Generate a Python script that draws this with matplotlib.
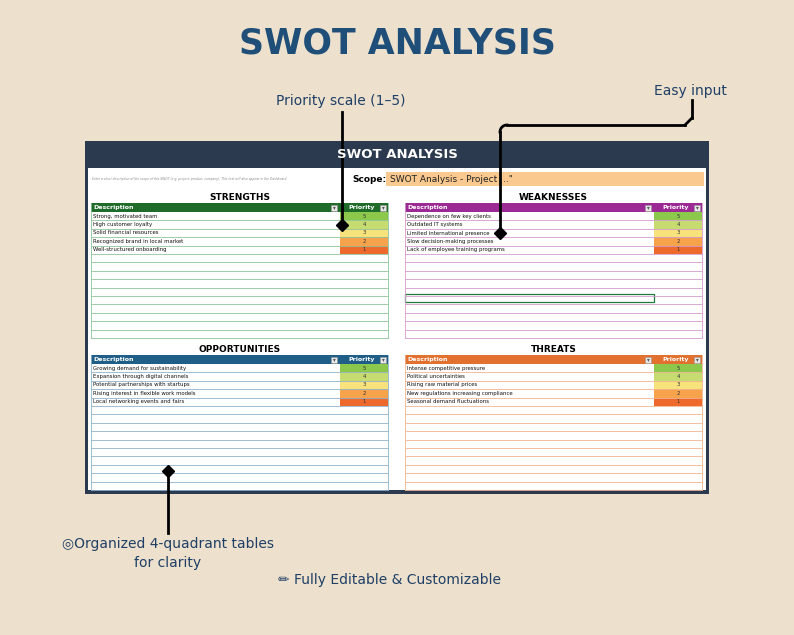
import matplotlib
matplotlib.use("Agg")
import matplotlib.pyplot as plt
from matplotlib.patches import Rectangle, FancyBboxPatch

title = "SWOT ANALYSIS"
quad_names = ["STRENGTHS", "WEAKNESSES", "OPPORTUNITIES", "THREATS"]
strengths = ["Strong, motivated team", "High customer loyalty", "Solid financial resources",
             "Recognized brand in local market", "Well-structured onboarding"]
weaknesses = ["Dependence on few key clients", "Outdated IT systems", "Limited international presence",
              "Slow decision-making processes", "Lack of employee training programs"]
opportunities = ["Growing demand for sustainability", "Expansion through digital channels",
                 "Potential partnerships with startups", "Rising interest in flexible work models",
                 "Local networking events and fairs"]
threats = ["Intense competitive pressure", "Political uncertainties", "Rising raw material prices",
           "New regulations increasing compliance", "Seasonal demand fluctuations"]
priorities = [5, 4, 3, 2, 1]
prio_colors = {5: "#8cc84b", 4: "#c6dc70", 3: "#f8e27c", 2: "#f6a34c", 1: "#ed6a2c"}

fig = plt.figure(figsize=(7.94, 6.35), dpi=100)
fig.patch.set_facecolor("#ede1cd")
ax = fig.add_axes([0, 0, 1, 1])
ax.set_xlim(0, 794); ax.set_ylim(635, 0); ax.axis("off")

ax.text(397, 43, title, ha="center", va="center", fontsize=25, fontweight="bold", color="#1f4e79")

# dashboard frame
ax.add_patch(Rectangle((85, 141), 624, 353, fc="#2b3a4f", ec="none"))
ax.add_patch(Rectangle((88, 168), 618, 322, fc="white", ec="none"))
ax.text(397, 155, "SWOT ANALYSIS", ha="center", va="center", fontsize=9.5, fontweight="bold", color="white")
ax.text(92, 179, "Enter a short description of the scope of this SWOT (e.g. project, product, company). This text will also appear in the Dashboard.",
        fontsize=2.2, style="italic", color="#888888", va="center")
ax.text(352, 179, "Scope:", fontsize=6.5, fontweight="bold", va="center")
ax.add_patch(Rectangle((386, 172), 318, 14, fc="#f9c98f", ec="none"))
ax.text(390, 179, "SWOT Analysis - Project ...\"", fontsize=6.5, va="center", color="#222222")

quads = [
    (strengths, 91, 197, "#1e6b2a", "#8fc49a", 15),
    (weaknesses, 405, 197, "#9b2a94", "#d39bd0", 15),
    (opportunities, 91, 349, "#1f5f87", "#8fb3cc", 15),
    (threats, 405, 349, "#e2702f", "#f1b48f", 15),
]
W = 297; PW = 48; RH = 8.4
for (items, x0, ty, hc, lc, nrows), name in zip(quads, quad_names):
    ax.text(x0 + W / 2, ty, name, ha="center", va="center", fontsize=6.5, fontweight="bold")
    hy = ty + 6
    ax.add_patch(Rectangle((x0, hy), W, 9, fc=hc, ec="none"))
    ax.text(x0 + 2, hy + 4.7, "Description", fontsize=4.5, fontweight="bold", color="white", va="center")
    ax.text(x0 + W - PW + 22, hy + 4.7, "Priority", fontsize=4.5, fontweight="bold", color="white", va="center", ha="center")
    for bx in (x0 + W - PW - 9, x0 + W - 8):
        ax.add_patch(Rectangle((bx, hy + 1.5), 6, 6, fc="#e8e8e8", ec="#999999", lw=0.4))
        ax.text(bx + 3, hy + 4.7, "▾", fontsize=4, ha="center", va="center", color="#555555")
    y = hy + 9
    for i in range(nrows):
        if i < len(items):
            p = priorities[i]
            ax.add_patch(Rectangle((x0 + W - PW, y), PW, RH, fc=prio_colors[p], ec="none"))
            ax.text(x0 + 2, y + RH / 2, items[i], fontsize=3.9, va="center", color="#111111")
            ax.text(x0 + W - PW / 2, y + RH / 2, str(p), fontsize=3.9, va="center", ha="center", color="#333333")
        ax.plot([x0, x0 + W], [y + RH, y + RH], color=lc, lw=0.6)
        y += RH
    ax.plot([x0, x0], [hy, y], color=lc, lw=0.6)
    ax.plot([x0 + W, x0 + W], [hy, y], color=lc, lw=0.6)

# selected cell in weaknesses
ax.add_patch(Rectangle((405, 294), 249, 8.4, fc="none", ec="#1e7b3a", lw=0.9))

# annotations
ac = "#1f3f66"
ax.text(341, 101, "Priority scale (1–5)", fontsize=10, color=ac, ha="center", va="center")
ax.plot([342, 342], [112, 225], color="black", lw=2)
ax.plot(342, 225, marker="D", color="black", ms=6)
ax.text(690, 91, "Easy input", fontsize=10, color=ac, ha="center", va="center")
ax.plot([692, 692], [100, 118], color="black", lw=2)
ax.plot([685, 507], [125, 125], color="black", lw=2)
ax.plot([500, 500], [132, 233], color="black", lw=2)
import numpy as np
t = np.linspace(0, np.pi / 2, 20)
ax.plot(685 + 7 * np.sin(t), 118 + 7 * (1 - np.cos(t)) * 0 + 7 * np.sin(t) * 0 + 7 * (1 - np.cos(np.pi / 2 - t)), color="black", lw=2)
ax.plot(507 - 7 * np.sin(t), 132 - 7 * np.cos(t), color="black", lw=2)
ax.plot(500, 233, marker="D", color="black", ms=6)
ax.plot([168, 168], [471, 533], color="black", lw=2)
ax.plot(168, 471, marker="D", color="black", ms=6)
ax.text(168, 544, "◎Organized 4-quadrant tables", fontsize=10, color=ac, ha="center", va="center")
ax.text(168, 563, "for clarity", fontsize=10, color=ac, ha="center", va="center")
ax.text(390, 580, "✏ Fully Editable & Customizable", fontsize=10, color=ac, ha="center", va="center")

fig.savefig("out.png", dpi=100, facecolor=fig.get_facecolor())
